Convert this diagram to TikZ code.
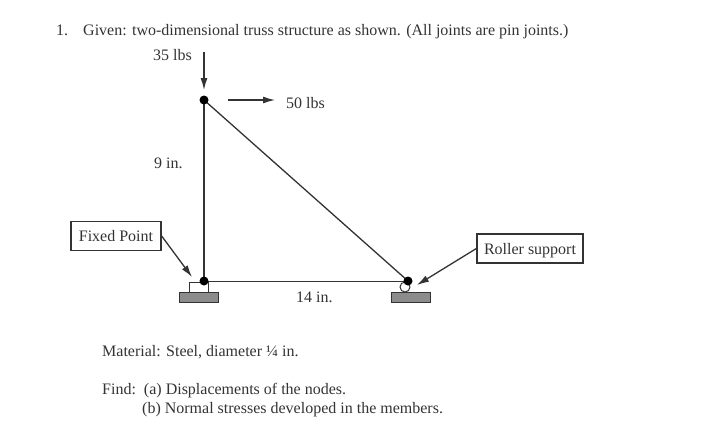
\documentclass[tikz,border=0pt]{standalone}
\usepackage{fontspec}
\setmainfont{Liberation Serif}
\usetikzlibrary{arrows.meta}
\definecolor{inkgray}{HTML}{333333}
\definecolor{basegray}{HTML}{8C8C8C}
\begin{document}
\begin{tikzpicture}[x=1pt, y=-1pt, inkgray,
    every node/.append style={text=inkgray, font=\fontsize{16}{19}\selectfont},
    lbl/.style={anchor=base west, inner sep=0pt},
    callout/.style={draw, line width=1.3pt, inner sep=0pt, minimum height=29pt, text height=11pt, text depth=0pt, text=inkgray},
    joint/.style={circle, fill=black, inner sep=0pt, minimum size=9pt},
    member/.style={line width=1.3pt},
    force/.style={line width=1.3pt, -{Latex[length=12pt, width=7pt]}}]
    \useasboundingbox (0,0) rectangle (706,432);
    \coordinate (A) at (204, 100);
    \coordinate (B) at (204, 281);
    \coordinate (C) at (408, 281);
    \coordinate (P1) at (204, 52);
    \coordinate (Q1) at (204, 90);
    \coordinate (P2) at (228, 100);
    \coordinate (Q2) at (275, 100);
    \coordinate (FixTip) at (192, 277);
    \coordinate (RollTip) at (417, 285);
    % supports
    \draw[line width=1pt] (189, 292) -- (189, 282) -- (208, 282) -- (208, 292);
    \draw[line width=1pt, fill=basegray] (179, 292) rectangle (218, 302);
    \draw[line width=1pt, fill=basegray] (391, 292) rectangle (430, 302);
    % members
    \draw[member] (A) -- (B);
    \draw[member] (A) -- (C);
    \draw[line width=1pt] (B) -- (C);
    \draw[line width=1pt, fill=white] (405, 287) circle (5);
    \node[joint] (nA) at (A) {};
    \node[joint] (nB) at (B) {};
    \node[joint] (nC) at (C) {};
    % loads
    \draw[force] (P1) -- (Q1);
    \draw[force] (P2) -- (Q2);
    % callouts
    \node[callout, minimum width=90pt] (fix) at (116, 236) {Fixed Point\hspace{3pt}};
    \node[callout, minimum width=106pt] (roll) at (530, 248.5) {Roller support};
    \draw[force] (fix.east) -- (FixTip);
    \draw[force] (roll.west) -- (RollTip);
    % text
    \node[lbl] (num) at (56, 35) {1.};
    \node[lbl] (title) at (83, 35) {Given: two-dimensional truss structure as shown. (All joints are pin joints.)};
    \node[lbl] (f1) at (153, 60) {35 lbs};
    \node[lbl] (f2) at (286, 108) {50 lbs};
    \node[lbl] (h) at (154, 168) {9 in.};
    \node[lbl] (w) at (296, 302) {14 in.};
    \node[lbl] (mat) at (102, 356) {Material: Steel, diameter ¼ in.};
    \node[lbl] (find) at (102, 394) {Find:\hspace{.5em}(a) Displacements of the nodes.};
    \node[lbl] (find2) at (142, 413) {(b) Normal stresses developed in the members.};
\end{tikzpicture}
\end{document}
